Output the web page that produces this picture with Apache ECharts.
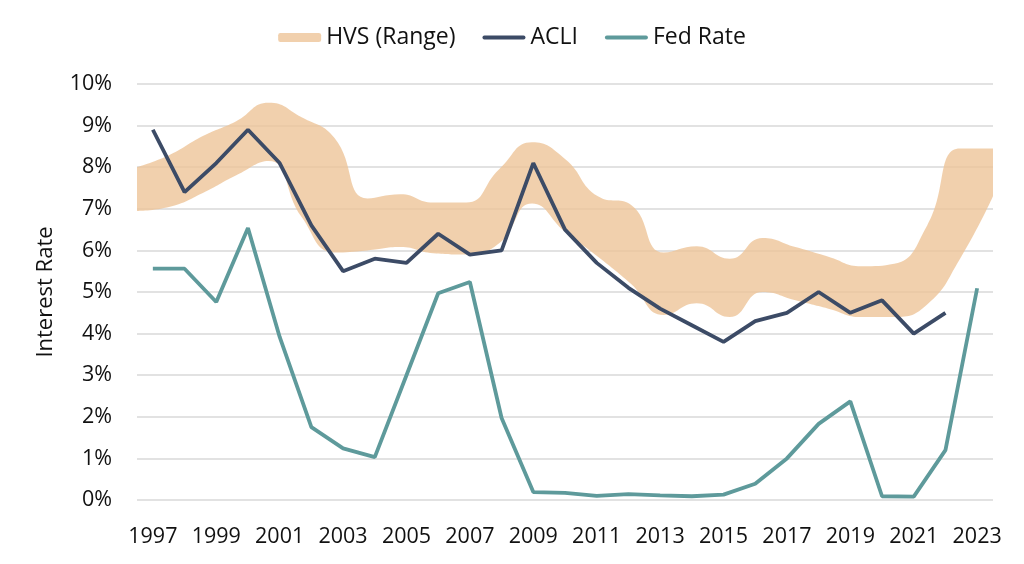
<!DOCTYPE html>
<html>
<head>
<meta charset="utf-8">
<script src="https://cdn.jsdelivr.net/npm/echarts@6/dist/echarts.min.js"></script>
<style>html,body{margin:0;padding:0;background:#fff;}#c{width:1024px;height:564px;}</style>
</head>
<body>
<div id="c"></div>
<script>
const years = ['1997','1998','1999','2000','2001','2002','2003','2004','2005','2006','2007','2008','2009','2010','2011','2012','2013','2014','2015','2016','2017','2018','2019','2020','2021','2022','2023'];
const hvsLow  = [6.95,7.05,7.38,7.8,8.15,6.8,5.95,6.0,6.08,5.93,5.9,6.17,7.13,6.45,5.85,5.2,4.45,4.73,4.4,5.0,4.8,4.6,4.4,4.4,4.7,5.8,7.3];
const hvsHigh = [8.0,8.3,8.75,9.1,9.55,9.2,8.7,7.25,7.35,7.15,7.15,7.95,8.6,8.2,7.3,7.1,5.95,6.1,5.8,6.3,6.08,5.85,5.62,5.68,6.6,8.45,8.45];
const acli    = [8.9,7.4,8.1,8.9,8.1,6.6,5.5,5.8,5.7,6.4,5.9,6.0,8.1,6.5,5.7,5.1,4.6,4.2,3.8,4.3,4.5,5.0,4.5,4.8,4.0,4.5,null];
const fedRate = [5.56,5.56,4.76,6.54,3.92,1.75,1.24,1.03,3.0,4.97,5.24,1.97,0.19,0.17,0.1,0.14,0.11,0.09,0.13,0.39,1.0,1.83,2.37,0.09,0.08,1.2,5.09];

const hvsSpan = hvsHigh.map((h, i) => +(h - hvsLow[i]).toFixed(2));
const font = '"Open Sans", "Noto Sans", sans-serif';
const lineIcon = 'path://M1.75,0H38.25A1.75,1.75,0,0,1,38.25,3.5H1.75A1.75,1.75,0,0,1,1.75,0Z';

const chart = echarts.init(document.getElementById('c'), null, {renderer: 'canvas'});
chart.setOption({
  animation: false,
  backgroundColor: '#ffffff',
  textStyle: {fontFamily: font},
  legend: {
    top: 21,
    left: 'center',
    itemWidth: 43,
    itemHeight: 9,
    itemGap: 27,
    textStyle: {fontFamily: font, fontSize: 23, color: '#111'},
    data: [
      {name: 'HVS (Range)', icon: 'roundRect', itemStyle: {color: '#F1D0AD'}},
      {name: 'ACLI', icon: lineIcon, itemStyle: {color: '#3C4B66'}},
      {name: 'Fed Rate', icon: lineIcon, itemStyle: {color: '#5E9A9B'}}
    ]
  },
  grid: {left: 137, right: 31, top: 84, bottom: 64},
  xAxis: [
    {
      type: 'category', data: years, boundaryGap: true,
      axisLine: {show: false}, axisTick: {show: false},
      axisLabel: {interval: 1, margin: 26, fontSize: 21.5, color: '#111', fontFamily: font}
    },
    {
      type: 'category', data: years, boundaryGap: false, show: false
    }
  ],
  yAxis: {
    type: 'value', min: 0, max: 10, interval: 1,
    name: 'Interest Rate', nameLocation: 'middle', nameGap: 80,
    nameTextStyle: {fontSize: 22, color: '#111', fontFamily: font},
    axisLine: {show: false}, axisTick: {show: false},
    axisLabel: {formatter: '{value}%', margin: 25, fontSize: 21.5, color: '#111', fontFamily: font},
    splitLine: {lineStyle: {color: '#d9d9d9', width: 1.5}}
  },
  series: [
    {
      name: 'hvsLow', type: 'line', xAxisIndex: 1, stack: 'hvs', data: hvsLow,
      smooth: 0.5, symbol: 'none', lineStyle: {width: 0, opacity: 0}, silent: true, z: 1
    },
    {
      name: 'HVS (Range)', type: 'line', xAxisIndex: 1, stack: 'hvs', data: hvsSpan,
      smooth: 0.5, symbol: 'none', lineStyle: {width: 0, opacity: 0},
      itemStyle: {color: '#F1D0AD'},
      areaStyle: {color: 'rgba(238,196,152,0.8)', opacity: 1}, z: 1
    },
    {
      name: 'ACLI', type: 'line', data: acli, symbol: 'none',
      lineStyle: {width: 3.8, color: '#3C4B66'}, itemStyle: {color: '#3C4B66'}, z: 3
    },
    {
      name: 'Fed Rate', type: 'line', data: fedRate, symbol: 'none',
      lineStyle: {width: 3.8, color: '#5E9A9B'}, itemStyle: {color: '#5E9A9B'}, z: 3
    }
  ]
});
</script>
</body>
</html>
